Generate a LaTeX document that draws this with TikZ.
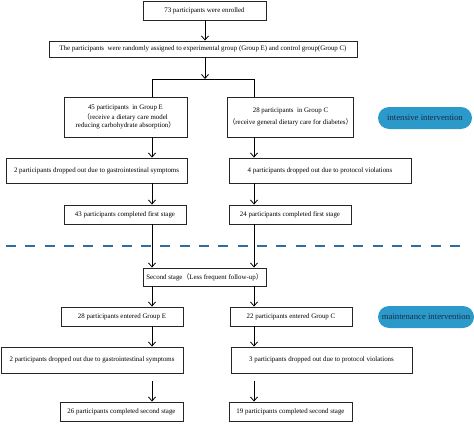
\documentclass[tikz,border=0pt]{standalone}
\usepackage{fontspec}
\setmainfont{Liberation Serif}
\newfontfamily\cjk{Noto Sans CJK SC}
\usetikzlibrary{arrows.meta}
\newcommand{\lpar}{{\cjk （}}
\newcommand{\rpar}{{\cjk ）}}
\definecolor{pillblue}{HTML}{2B9ACB}
\definecolor{pilltext}{HTML}{1B2B45}
\definecolor{dashblue}{HTML}{2F6EA5}
\begin{document}
\begin{tikzpicture}[x=1pt,y=-1pt,
  box/.style={draw=black!85, line width=0.9pt, inner sep=1pt, align=center,
    font=\fontsize{6.9}{8.5}\selectfont, anchor=center},
  arr/.style={-{Straight Barb[length=4pt,width=7pt]}, line width=0.8pt},
  ln/.style={line width=0.8pt},
  pill/.style={fill=pillblue, rounded corners=11pt, text=pilltext, inner sep=0pt,
    font=\fontsize{8.7}{10}\selectfont, anchor=center}]
\useasboundingbox (0,0) rectangle (474,428);
\coordinate (xm) at (205,0);
\coordinate (xl) at (152,0);
\coordinate (xr) at (254,0);

\node[box, minimum width=123, minimum height=19] (n1) at (204.5,10.5) {73 participants were enrolled};
\node[box, minimum width=308, minimum height=16] (n2) at (203,49) {The participants\ \ were randomly assigned to experimental group (Group E) and control group(Group C)};
\node[box, minimum width=123, minimum height=40] (e1) at (125.5,117) {45 participants\ \ in Group E\\[1.5pt]\lpar receive a dietary care model\\reducing carbohydrate absorption\rpar};
\node[box, minimum width=123, minimum height=40] (c1) at (290.5,117) {28 participants\ \ in Group C\\[4pt]\lpar receive general dietary care for diabetes\rpar};
\node[box, minimum width=181, minimum height=25] (e2) at (96.5,170.5) {2 participants dropped out due to gastrointestinal symptoms};
\node[box, minimum width=182, minimum height=25] (c2) at (320,170.5) {4 participants dropped out due to protocol violations};
\node[box, minimum width=122, minimum height=19] (e3) at (125,214.5) {43 participants completed first stage};
\node[box, minimum width=122, minimum height=19] (c3) at (290,214.5) {24 participants completed first stage};
\node[box, minimum width=123, minimum height=18] (s) at (204.5,277) {Second stage\lpar Less frequent follow-up\rpar};
\node[box, minimum width=122, minimum height=19] (e4) at (122,316.5) {28 participants entered Group E};
\node[box, minimum width=122, minimum height=19] (c4) at (291,316.5) {22 participants entered Group C};
\node[box, minimum width=182, minimum height=26] (e5) at (92,360) {2 participants dropped out due to gastrointestinal symptoms};
\node[box, minimum width=181, minimum height=26] (c5) at (321.5,360) {3 participants dropped out due to protocol violations};
\node[box, minimum width=123, minimum height=19] (e6) at (121.5,411.5) {26 participants completed second stage};
\node[box, minimum width=123, minimum height=19] (c6) at (290.5,411.5) {19 participants completed second stage};

\node[pill, minimum width=94, minimum height=22] (p1) at (425,118) {intensive intervention};
\node[pill, minimum width=96, minimum height=22] (p2) at (426,317) {maintenance intervention};

\coordinate (j) at (205,79);
\coordinate (jl) at (152,79);
\coordinate (jr) at (254,79);
\coordinate (d1) at (6,246);
\coordinate (d2) at (468,246);

\draw[arr] (n1.south -| xm) -- (n2.north -| xm);
\draw[arr] (n2.south -| xm) -- (j);
\draw[ln] (jl) -- (jr);
\draw[ln] (jl) -- (e1.north -| xl);
\draw[ln] (jr) -- (c1.north -| xr);

\draw[arr] (e1.south -| xl) -- (e2.north -| xl);
\draw[arr] (c1.south -| xr) -- (c2.north -| xr);
\draw[arr] (e2.south -| xl) -- (e3.north -| xl);
\draw[arr] (c2.south -| xr) -- (c3.north -| xr);
\draw[arr] (e3.south -| xl) -- (s.north -| xl);
\draw[arr] (c3.south -| xr) -- (s.north -| xr);
\draw[arr] (s.south -| xl) -- (e4.north -| xl);
\draw[arr] (s.south -| xr) -- (c4.north -| xr);
\draw[arr] (e4.south -| xl) -- (e5.north -| xl);
\draw[arr] (c4.south -| xr) -- (c5.north -| xr);
\draw[arr, shorten <=8pt] (e5.south -| xl) -- (e6.north -| xl);
\draw[arr, shorten <=8pt] (c5.south -| xr) -- (c6.north -| xr);

\draw[dashblue, line width=2.2pt, dash pattern=on 10pt off 9.3pt] (d1) -- (d2);
\end{tikzpicture}
\end{document}
